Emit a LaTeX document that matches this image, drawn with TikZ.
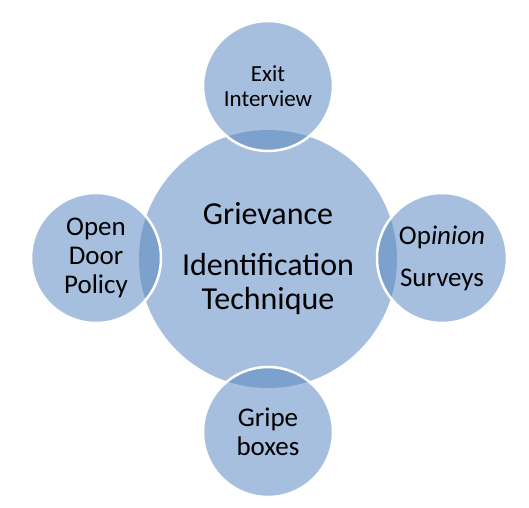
\documentclass[tikz,border=0pt]{standalone}
\usepackage{fontspec}
\setmainfont{Carlito}
\definecolor{petalblue}{RGB}{167,191,222}
\definecolor{lensblue}{RGB}{124,161,205}
\begin{document}
\begin{tikzpicture}[x=1pt, y=-1pt,
    hub/.style={circle, fill=petalblue, minimum size=258pt, inner sep=0pt, align=center, font=\fontsize{32}{34}\selectfont},
    spoke/.style={circle, fill=petalblue, minimum size=130pt, inner sep=0pt, align=center, font=\fontsize{27}{29}\selectfont},
    rim/.style={draw=white, line width=2.5pt}]
    \useasboundingbox (0,0) rectangle (529,507);
    \node [hub] (GIT) at (268,259) {Grievance\\[17pt]Identification\\Technique};
    \node [spoke, font=\fontsize{23}{25}\selectfont] (Exit) at (268,86) {Exit\\Interview};
    \node [spoke] (Opinion) at (442,258) {Op\textit{inion}\\[13pt]Surveys};
    \node [spoke] (Gripe) at (268,432) {Gripe\\boxes};
    \node [spoke] (OpenDoor) at (96,258) {Open\\Door\\Policy};
    % darker where the small circles sit on the big one
    \begin{scope}
        \clip (GIT.center) circle (129pt);
        \foreach \s in {Exit,Opinion,Gripe,OpenDoor}
            \fill [lensblue] (\s.center) circle (65pt);
    \end{scope}
    \foreach \s in {Exit,Opinion,Gripe,OpenDoor}
        \path [rim] (\s.center) circle (65pt);
\end{tikzpicture}
\end{document}
